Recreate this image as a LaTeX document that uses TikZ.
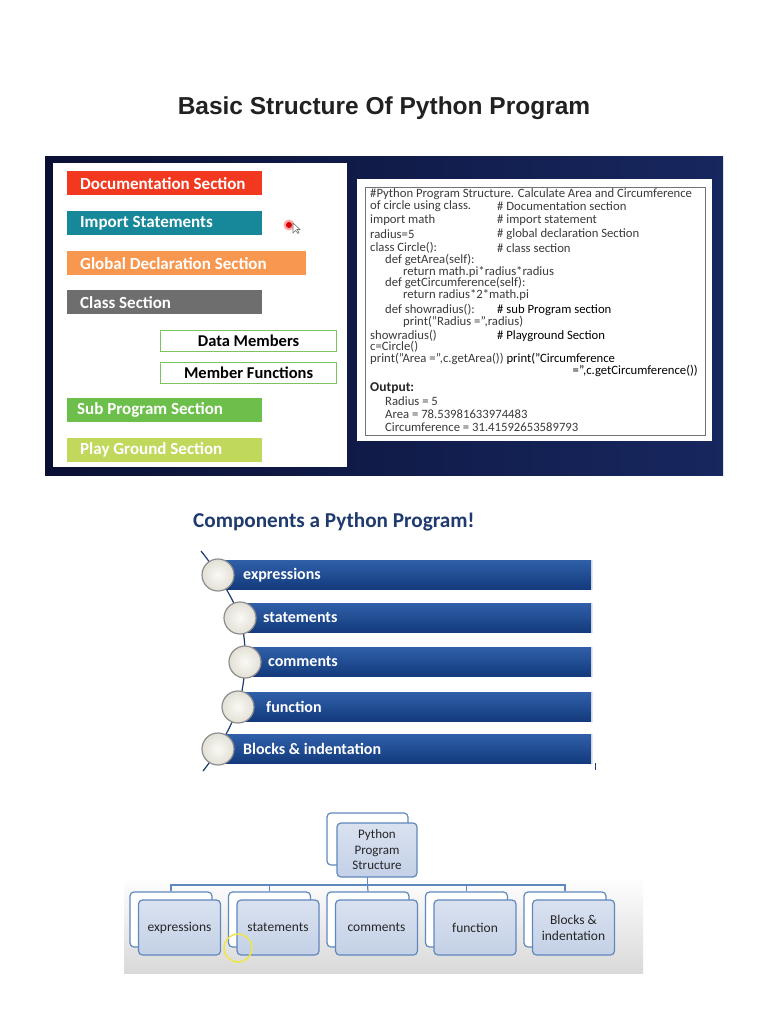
\documentclass[tikz,border=0pt]{standalone}
\usepackage{fontspec}
\setmainfont{Carlito}
\newfontfamily\titlefont{Liberation Sans}
\definecolor{navyA}{HTML}{0A1034}
\definecolor{navyB}{HTML}{17275F}
\definecolor{docred}{HTML}{F2391F}
\definecolor{impteal}{HTML}{17879A}
\definecolor{globor}{HTML}{F8974F}
\definecolor{clsgray}{HTML}{6E6E6E}
\definecolor{subgreen}{HTML}{6DBF4B}
\definecolor{playgreen}{HTML}{C0D85C}
\definecolor{membgreen}{HTML}{7CC45C}
\definecolor{codegray}{HTML}{3A3A3A}
\definecolor{comptitle}{HTML}{1F3A6E}
\definecolor{barTop}{HTML}{2F5FA8}
\definecolor{barBot}{HTML}{133A7C}
\definecolor{bubfill}{HTML}{F3F1E6}
\definecolor{bubedge}{HTML}{8E8E8E}
\definecolor{orgline}{HTML}{5F88BD}
\definecolor{orgTop}{HTML}{DAE2F0}
\definecolor{orgBot}{HTML}{C3D0E6}
\newcommand\codefs{\fontsize{12.7}{14}\selectfont}
\tikzset{
  secbox/.style={anchor=north west, rectangle, inner sep=0pt, minimum height=24pt},
  sectext/.style={anchor=west, inner sep=0pt, text=white, font=\bfseries\fontsize{17}{19}\selectfont},
  membbox/.style={anchor=north west, rectangle, draw=membgreen, line width=1.2pt, fill=white,
    minimum width=176pt, minimum height=21pt, inner sep=0pt, font=\bfseries\fontsize{16.5}{18}\selectfont, text=black},
  codeline/.style={anchor=west, inner sep=0pt, font=\codefs, text=codegray},
  bar/.style={anchor=west, rectangle, top color=barTop, bottom color=barBot, minimum height=29pt, inner sep=0pt},
  bartext/.style={anchor=west, inner sep=0pt, text=white, font=\bfseries\fontsize{16}{18}\selectfont},
  bub/.style={circle, minimum size=32pt, inner sep=0pt, inner color=white!55!bubfill, outer color=bubfill!93!black, draw=bubedge, line width=1.2pt},
  spine/.style={draw=comptitle, line width=1.2pt},
  backbox/.style={rectangle, rounded corners=4pt, draw=orgline, line width=1.2pt, fill=white,
    minimum width=82pt, minimum height=55pt},
  frontbox/.style={rectangle, rounded corners=4pt, draw=orgline, line width=1.2pt, top color=orgTop, bottom color=orgBot,
    minimum width=82pt, minimum height=55pt, inner sep=1pt, align=center, text=black!85,
    font=\fontsize{13.5}{16}\selectfont},
  orgconn/.style={draw=orgline, line width=1.2pt}
}
\begin{document}
\begin{tikzpicture}[x=1pt,y=-1pt]
\useasboundingbox (0,0) rectangle (768,1024);
\fill[white] (0,0) rectangle (768,1024);

% title
\node[font=\titlefont\bfseries\fontsize{24.5}{28}\selectfont, text=black!87] (title) at (384,108) {Basic Structure Of Python Program};

% ---------- panel 1 ----------
\shade[left color=navyA, right color=navyB] (45,157) rectangle (723,475);
\fill[white] (53,163) rectangle (347,467);
\fill[white] (357,179) rectangle (712,441);
\draw[black!55, line width=0.9pt] (365,187) rectangle (705,435);

\node[secbox, fill=docred, minimum width=195pt] (doc) at (67,171) {};
\node[sectext] (doct) at ([xshift=13pt]doc.west) {Documentation Section};
\node[secbox, fill=impteal, minimum width=195pt] (imp) at (67,211) {};
\node[sectext] (impt) at ([xshift=13pt]imp.west) {Import Statements};
\node[secbox, fill=globor, minimum width=239pt] (glob) at (67,251) {};
\node[sectext] (globt) at ([xshift=13pt]glob.west) {Global Declaration Section};
\node[secbox, fill=clsgray, minimum width=195pt] (cls) at (67,290) {};
\node[sectext] (clst) at ([xshift=13pt]cls.west) {Class Section};
\node[membbox] (datam) at (160,330) {Data Members};
\node[membbox] (memf) at (160,362) {Member Functions};
\node[secbox, fill=subgreen, minimum width=195pt] (sub) at (67,398) {};
\node[sectext] (subt) at ([xshift=10pt]sub.west) {Sub Program Section};
\node[secbox, fill=playgreen, minimum width=195pt] (play) at (67,438) {};
\node[sectext] (playt) at ([xshift=13pt]play.west) {Play Ground Section};

% pointer
\fill[red!35] (289,225) circle (5.5pt);
\fill[red!85!black] (289,225) circle (3pt);
\draw[black!55, line width=0.6pt, fill=white] (293,223) -- (293,233) -- (295.5,230.5) -- (298,233.5) -- (299,232.5) -- (297,229.5) -- (300,229.5) -- cycle;

% code
\node[codeline] (l1) at (370,194) {\#Python Program Structure. Calculate Area and Circumference};
\node[codeline] (l2) at (370,206) {of circle using class.};
\node[codeline] (c2) at (497,206) {\# Documentation section};
\node[codeline] (l3) at (370,220) {import math};
\node[codeline] (c3) at (497,220) {\# import statement};
\node[codeline] (l4) at (370,234) {radius=5};
\node[codeline] (c4) at (497,234) {\# global declaration Section};
\node[codeline] (l5) at (370,248) {class Circle():};
\node[codeline] (c5) at (497,248) {\# class section};
\node[codeline] (l6) at (385,260) {def getArea(self):};
\node[codeline] (l7) at (403,272) {return math.pi*radius*radius};
\node[codeline] (l8) at (385,283) {def getCircumference(self):};
\node[codeline] (l9) at (403,295) {return radius*2*math.pi};
\node[codeline] (l10) at (385,310) {def showradius():};
\node[codeline, text=black] (c10) at (497,310) {\# sub Program section};
\node[codeline] (l11) at (403,322) {print("Radius =",radius)};
\node[codeline] (l12) at (370,336) {showradius()};
\node[codeline, text=black] (c12) at (497,336) {\# Playground Section};
\node[codeline] (l13) at (370,347) {c=Circle()};
\node[codeline] (l14) at (370,359) {print("Area =",c.getArea()) \textcolor{black}{print("Circumference}};
\node[codeline, anchor=east, text=black] (l15) at (698,371) {=",c.getCircumference())};
\node[codeline, font=\bfseries\fontsize{13.5}{15}\selectfont, text=black!85] (out) at (370,388) {Output:};
\node[codeline] (o1) at (385,401) {Radius = 5};
\node[codeline] (o2) at (385,414) {Area = 78.53981633974483};
\node[codeline] (o3) at (385,427) {Circumference = 31.41592653589793};

% ---------- components ----------
\node[anchor=west, inner sep=0pt, text=comptitle, font=\bfseries\fontsize{21.2}{24}\selectfont] (ctitle) at (193,522) {Components a Python Program!};

\coordinate (sp0) at (201,551);
\coordinate (sp6) at (203,771);
\coordinate (c1p) at (218,575);
\coordinate (c2p) at (240,618);
\coordinate (c3p) at (245,662);
\coordinate (c4p) at (238,707);
\coordinate (c5p) at (218,749);
\draw[spine] plot[smooth, tension=0.6] coordinates {(sp0) (c1p) (c2p) (c3p) (c4p) (c5p) (sp6)};

\node[bar, minimum width=374pt] (bar1) at (c1p) {};
\node[bar, minimum width=352pt] (bar2) at (c2p) {};
\node[bar, minimum width=347pt] (bar3) at (c3p) {};
\node[bar, minimum width=354pt] (bar4) at (c4p) {};
\node[bar, minimum width=374pt] (bar5) at (c5p) {};
\foreach \b in {bar1,bar2,bar3,bar4,bar5}{
  \draw[white!75!barTop, line width=1.5pt] ([xshift=-1pt]\b.north east) -- ([xshift=-1pt]\b.south east);
}
\node[bartext] (t1) at ([xshift=25pt]bar1.west) {expressions};
\node[bartext] (t2) at ([xshift=23pt]bar2.west) {statements};
\node[bartext] (t3) at ([xshift=23pt]bar3.west) {comments};
\node[bartext] (t4) at ([xshift=28pt]bar4.west) {function};
\node[bartext] (t5) at ([xshift=25pt]bar5.west) {Blocks \& indentation};
\node[bub] (b1) at (c1p) {};
\node[bub] (b2) at (c2p) {};
\node[bub] (b3) at (c3p) {};
\node[bub] (b4) at (c4p) {};
\node[bub] (b5) at (c5p) {};
\draw[comptitle, line width=1pt] (595,763) -- (595,770);

% ---------- org chart ----------
\shade[top color=white, bottom color=black!15] (124,876) rectangle (643,973);

\node[backbox, minimum width=81pt, minimum height=52pt] (topback) at (367.5,839) {};
\coordinate (bus) at (367.5,885);
\foreach \i in {1,...,5}{
  \node[backbox] (cb\i) at ({171+98.5*(\i-1)},919.5) {};
}
\draw[orgconn] (topback.south) -- (bus);
\draw[orgconn] (cb1.north) |- (bus);
\draw[orgconn] (cb2.north) |- (bus);
\draw[orgconn] (cb3.north) -- (bus);
\draw[orgconn] (cb4.north) |- (bus);
\draw[orgconn] (cb5.north) |- (bus);
\node[frontbox, minimum width=80pt, minimum height=54pt, font=\fontsize{13}{15.5}\selectfont] (topfront) at (377,850) {Python\\Program\\Structure};
\node[frontbox] (f1) at (179.5,927.5) {expressions};
\node[frontbox] (f2) at (278,927.5) {statements};
\node[frontbox] (f3) at (376.5,927.5) {comments};
\node[frontbox] (f4) at (475,927.5) {function};
\node[frontbox] (f5) at (573.5,927.5) {Blocks \&\\indentation};

\draw[yellow!80!olive!70, line width=1.5pt] (238,948) circle (14pt);
\end{tikzpicture}
\end{document}
